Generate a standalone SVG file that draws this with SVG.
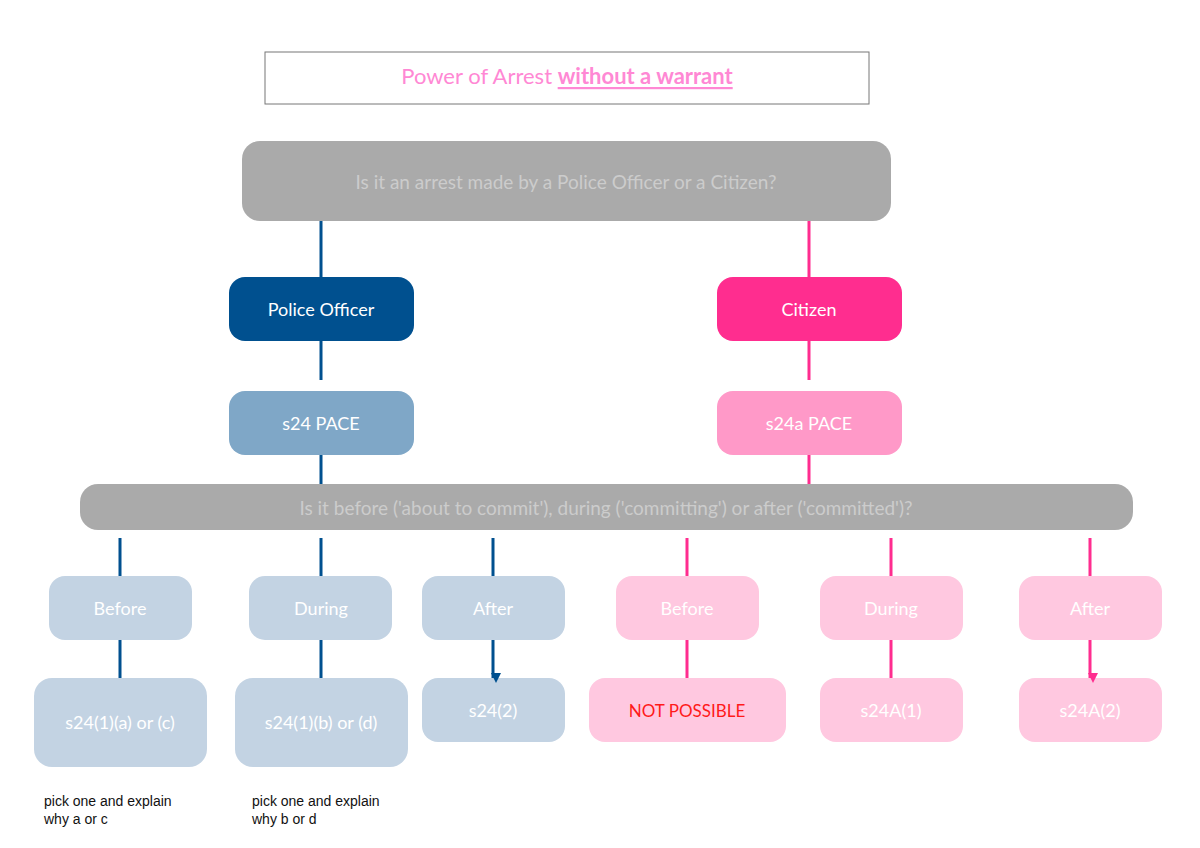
<svg xmlns="http://www.w3.org/2000/svg" width="1200" height="848" viewBox="0 0 1200 848">
<defs>
<marker id="ab" markerWidth="10" markerHeight="10" refX="5" refY="8" orient="auto" markerUnits="userSpaceOnUse" viewBox="0 0 10 10"><path d="M0,0 L10,0 L5,10 Z" fill="#00508f" transform="rotate(-90 5 5)"/></marker>
<marker id="ap" markerWidth="10" markerHeight="10" refX="5" refY="8" orient="auto" markerUnits="userSpaceOnUse" viewBox="0 0 10 10"><path d="M0,0 L10,0 L5,10 Z" fill="#ff2d8f" transform="rotate(-90 5 5)"/></marker>
<style>
text{font-family:"Lato","Liberation Sans",sans-serif;text-anchor:middle;dominant-baseline:central}
.q{fill:#aaaaaa}.qt{fill:#cccccc;font-size:19px}
.lb{fill:#c3d3e3}.lp{fill:#ffc8e0}.wt{fill:#ffffff;font-size:18px}
.cb{stroke:#00508f;stroke-width:3;fill:none}
.cp{stroke:#ff2d8f;stroke-width:3;fill:none}
.note{font-family:"Liberation Sans",Arial,sans-serif;font-size:14px;fill:#111;text-anchor:start;dominant-baseline:auto}
</style>
</defs>
<g id="title"><rect x="265" y="52" width="604" height="52" fill="#fff" stroke="#777" stroke-width="1"/>
<text x="567" y="75" font-size="22" fill="#ff88d4">Power of Arrest <tspan font-weight="bold" text-decoration="underline">without a warrant</tspan></text></g>
<g id="q1"><rect class="q" x="242" y="141" width="649" height="80" rx="18"/><text class="qt" x="566" y="181">Is it an arrest made by a Police Officer or a Citizen?</text></g>
<g id="police"><rect x="229" y="277" width="185" height="64" rx="16" fill="#00508f"/><text class="wt" x="321" y="309">Police Officer</text></g>
<g id="citizen"><rect x="717" y="277" width="185" height="64" rx="16" fill="#ff2d8f"/><text class="wt" x="809" y="309">Citizen</text></g>
<g id="s24"><rect x="229" y="391" width="185" height="64" rx="16" fill="#7fa7c7"/><text class="wt" x="321" y="423">s24 PACE</text></g>
<g id="s24a"><rect x="717" y="391" width="185" height="64" rx="16" fill="#ff99c8"/><text class="wt" x="809" y="423">s24a PACE</text></g>
<g id="q2"><rect class="q" x="80" y="484" width="1053" height="46" rx="18"/><text class="qt" x="606" y="507">Is it before ('about to commit'), during ('committing') or after ('committed')?</text></g>
<g id="pbefore"><rect class="lb" x="49" y="576" width="143" height="64" rx="16"/><text class="wt" x="120" y="608">Before</text></g>
<g id="pduring"><rect class="lb" x="249" y="576" width="143" height="64" rx="16"/><text class="wt" x="321" y="608">During</text></g>
<g id="pafter"><rect class="lb" x="422" y="576" width="143" height="64" rx="16"/><text class="wt" x="493" y="608">After</text></g>
<g id="cbefore"><rect class="lp" x="616" y="576" width="143" height="64" rx="16"/><text class="wt" x="687" y="608">Before</text></g>
<g id="cduring"><rect class="lp" x="820" y="576" width="143" height="64" rx="16"/><text class="wt" x="891" y="608">During</text></g>
<g id="cafter"><rect class="lp" x="1019" y="576" width="143" height="64" rx="16"/><text class="wt" x="1090" y="608">After</text></g>
<g id="r1"><rect class="lb" x="34" y="678" width="173" height="89" rx="18"/><text class="wt" x="120" y="722">s24(1)(a) or (c)</text></g>
<g id="r2"><rect class="lb" x="235" y="678" width="173" height="89" rx="18"/><text class="wt" x="321" y="722">s24(1)(b) or (d)</text></g>
<g id="r3"><rect class="lb" x="422" y="678" width="143" height="64" rx="16"/><text class="wt" x="493" y="710">s24(2)</text></g>
<g id="r4"><rect class="lp" x="589" y="678" width="197" height="64" rx="16"/><text x="687" y="710" font-size="17" fill="#ff1a1a">NOT POSSIBLE</text></g>
<g id="r5"><rect class="lp" x="820" y="678" width="143" height="64" rx="16"/><text class="wt" x="891" y="710">s24A(1)</text></g>
<g id="r6"><rect class="lp" x="1019" y="678" width="143" height="64" rx="16"/><text class="wt" x="1090" y="710">s24A(2)</text></g>
<g id="notes"><text class="note" x="44" y="806">pick one  and explain</text><text class="note" x="44" y="824">why a or c</text>
<text class="note" x="252" y="806">pick one and explain</text><text class="note" x="252" y="824">why b or d</text></g>
<g id="connectors">
<path class="cb" marker-end="url(#ab)" d="M321,221V277M321,341V380M321,455V484M120,538V576M321,538V576M493,538V576M120,640V678M321,640V678M493,640V678"/>
<path class="cp" marker-end="url(#ap)" d="M809,221V277M809,341V380M809,455V484M687,538V576M891,538V576M1090,538V576M687,640V678M891,640V678M1090,640V678"/>
</g>
</svg>
